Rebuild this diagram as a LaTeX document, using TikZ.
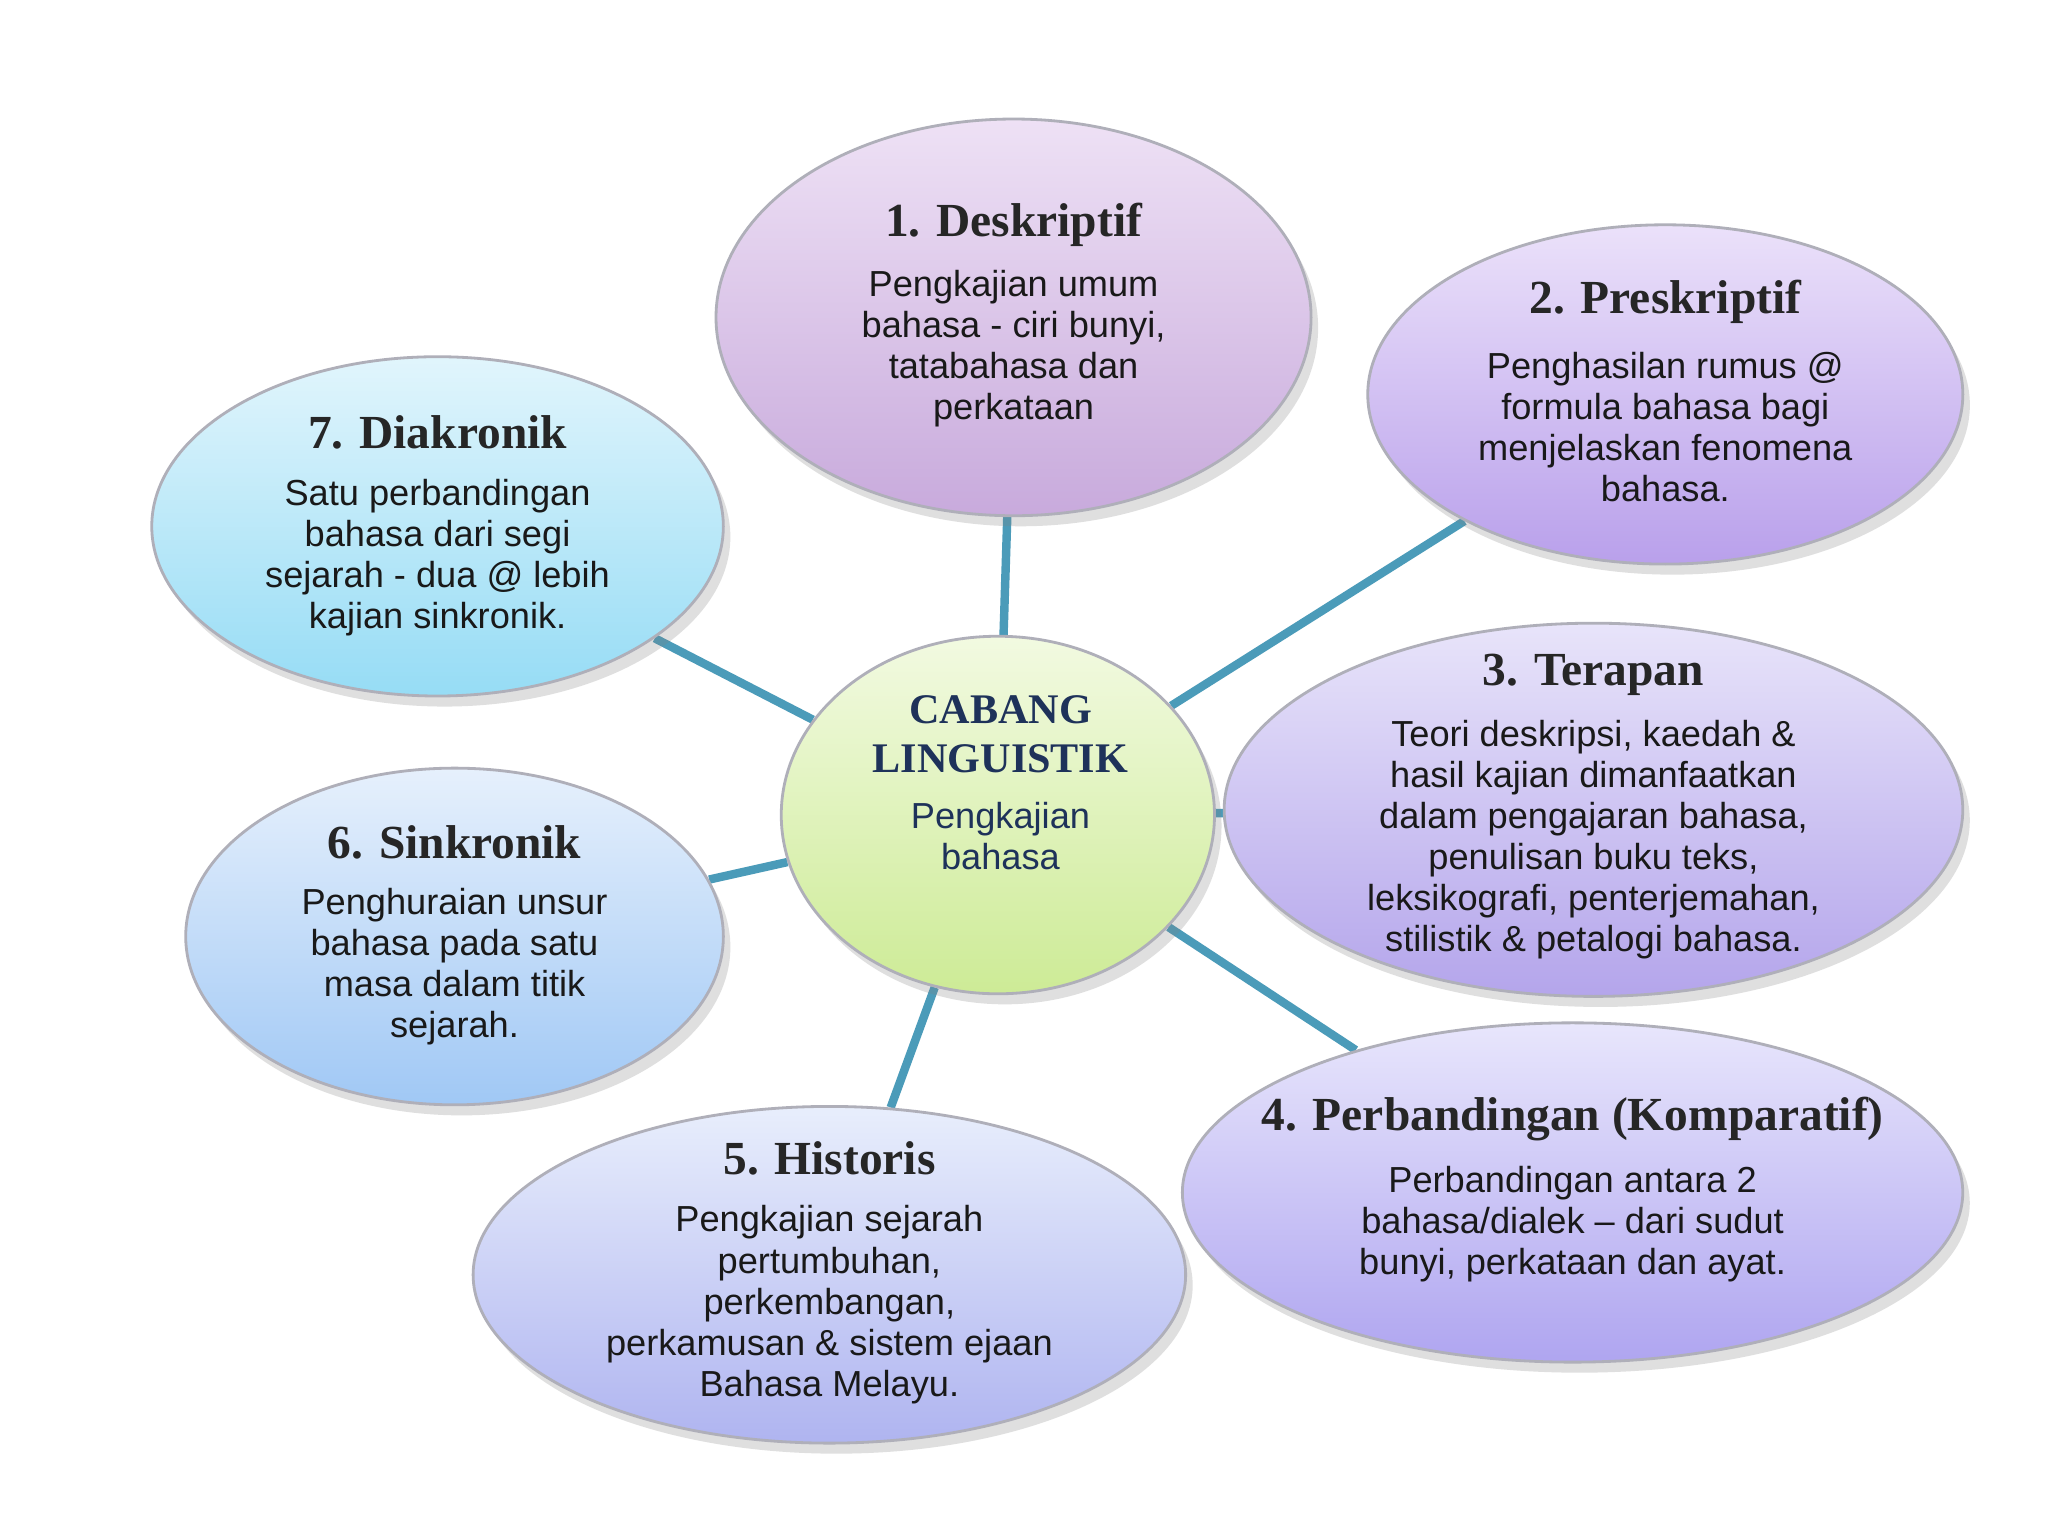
\documentclass[tikz,border=0pt]{standalone}
\usepackage{fontspec}
\setmainfont{Liberation Sans}
\newfontfamily\titlefont{Liberation Serif}
\usetikzlibrary{shapes.geometric,shadows,backgrounds}
\definecolor{linkc}{RGB}{75,155,185}
\definecolor{bordc}{RGB}{175,175,185}
\definecolor{navy}{RGB}{30,50,90}
\tikzset{
 bubble/.style={ellipse,draw=bordc,line width=0.8pt,inner sep=0pt,drop shadow={shadow xshift=2pt,shadow yshift=-3pt,opacity=0.25}},
 link/.style={draw=linkc,line width=2.4pt},
 ttl/.style={font=\titlefont\fontsize{13.5}{16}\selectfont\bfseries,text=black!85},
 body/.style={font=\fontsize{10.3}{11.7}\selectfont,align=center,text=black!90}
}
\begin{document}
\begin{tikzpicture}[x=0.01306cm,y=-0.01306cm]
\useasboundingbox (0,0) rectangle (1568,1176);
\node[bubble,minimum width=456*0.3713pt,minimum height=304*0.3713pt,top color={rgb,255:red,238;green,225;blue,245},bottom color={rgb,255:red,200;green,170;blue,220}] (n1) at (776,243) {};
\node[bubble,minimum width=456*0.3713pt,minimum height=260*0.3713pt,top color={rgb,255:red,235;green,225;blue,250},bottom color={rgb,255:red,185;green,160;blue,235}] (n2) at (1275,302) {};
\node[bubble,minimum width=566*0.3713pt,minimum height=286*0.3713pt,top color={rgb,255:red,232;green,228;blue,250},bottom color={rgb,255:red,180;green,165;blue,235}] (n3) at (1220,620) {};
\node[bubble,minimum width=598*0.3713pt,minimum height=260*0.3713pt,top color={rgb,255:red,232;green,230;blue,252},bottom color={rgb,255:red,175;green,165;blue,240}] (n4) at (1204,913) {};
\node[bubble,minimum width=546*0.3713pt,minimum height=258*0.3713pt,top color={rgb,255:red,232;green,238;blue,252},bottom color={rgb,255:red,175;green,180;blue,240}] (n5) at (635,976) {};
\node[bubble,minimum width=412*0.3713pt,minimum height=258*0.3713pt,top color={rgb,255:red,230;green,240;blue,252},bottom color={rgb,255:red,160;green,200;blue,245}] (n6) at (348,717) {};
\node[bubble,minimum width=438*0.3713pt,minimum height=260*0.3713pt,top color={rgb,255:red,225;green,245;blue,252},bottom color={rgb,255:red,150;green,220;blue,245}] (n7) at (335,403) {};
\node[bubble,minimum width=332*0.3713pt,minimum height=274*0.3713pt,top color={rgb,255:red,242;green,250;blue,225},bottom color={rgb,255:red,205;green,235;blue,150}] (c) at (764,624) {};
\begin{scope}[on background layer]
\fill[white] (0,0) rectangle (1568,1176);
\foreach \n in {n1,n2,n3,n4,n5,n6,n7}{\draw[link] (c) -- (\n);}
\end{scope}
\node[ttl] (t1) at (776,172) {1. Deskriptif};
\node[body] (b1) at (776,267) {Pengkajian umum\\bahasa - ciri bunyi,\\tatabahasa dan\\perkataan};
\node[ttl] (t2) at (1275,231) {2. Preskriptif};
\node[body] (b2) at (1275,327) {Penghasilan rumus @\\formula bahasa bagi\\menjelaskan fenomena\\bahasa.};
\node[ttl] (t3) at (1220,517) {3. Terapan};
\node[body] (b3) at (1220,643) {Teori deskripsi, kaedah \&\\hasil kajian dimanfaatkan\\dalam pengajaran bahasa,\\penulisan buku teks,\\leksikografi, penterjemahan,\\stilistik \& petalogi bahasa.};
\node[ttl] (t4) at (1204,857) {4. Perbandingan (Komparatif)};
\node[body] (b4) at (1204,937) {Perbandingan antara 2\\bahasa/dialek -- dari sudut\\bunyi, perkataan dan ayat.};
\node[ttl] (t5) at (635,887) {5. Historis};
\node[body] (b5) at (635,999) {Pengkajian sejarah\\pertumbuhan,\\perkembangan,\\perkamusan \& sistem ejaan\\Bahasa Melayu.};
\node[ttl] (t6) at (348,645) {6. Sinkronik};
\node[body] (b6) at (348,740) {Penghuraian unsur\\bahasa pada satu\\masa dalam titik\\sejarah.};
\node[ttl] (t7) at (335,331) {7. Diakronik};
\node[body] (b7) at (335,427) {Satu perbandingan\\bahasa dari segi\\sejarah - dua @ lebih\\kajian sinkronik.};
\node[font=\titlefont\fontsize{12}{14}\selectfont\bfseries,text=navy,align=center] (ct) at (766,562) {CABANG\\LINGUISTIK};
\node[font=\fontsize{10.3}{11.7}\selectfont,text=navy,align=center] (cb) at (766,640) {Pengkajian\\bahasa};
\end{tikzpicture}
\end{document}
